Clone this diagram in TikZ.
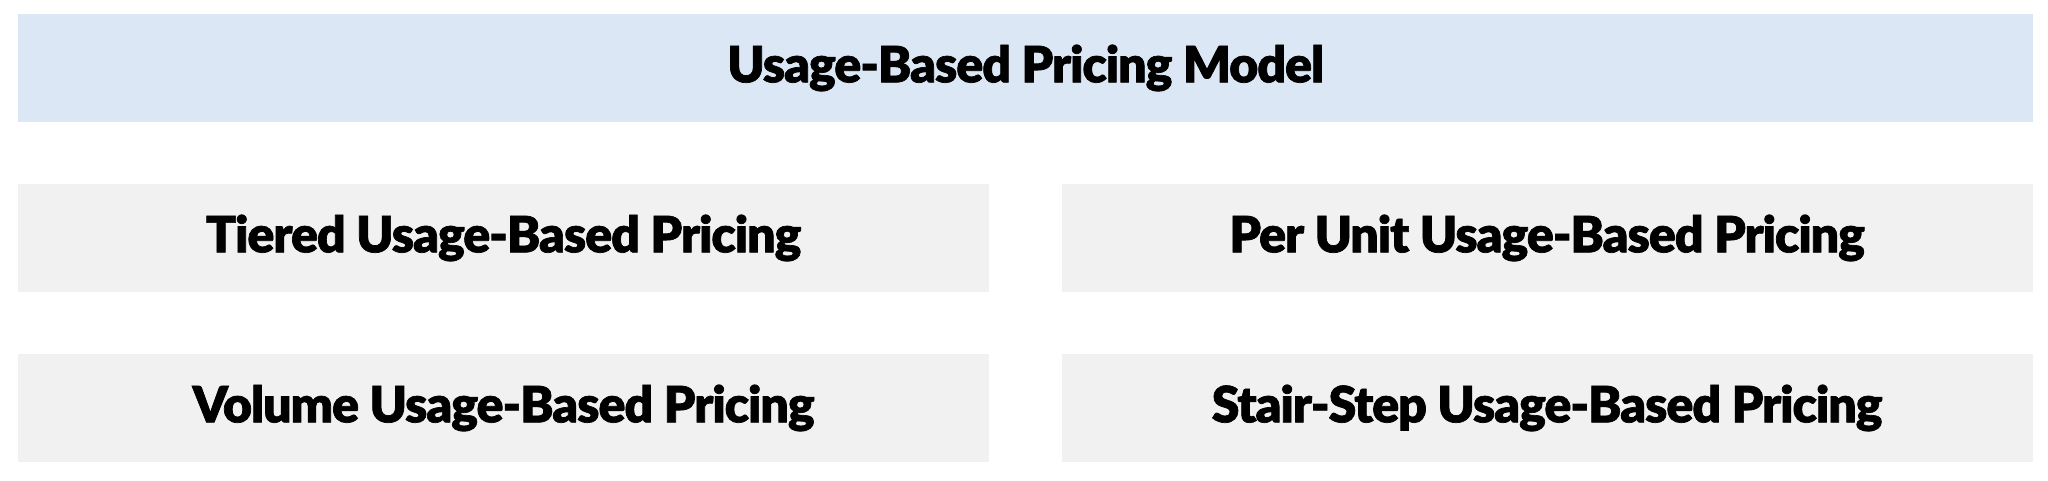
\documentclass[tikz,border=0pt]{standalone}
\usepackage{fontspec}
\usepackage{tikz}
\newfontfamily\heavyfont[FakeBold=1.4,LetterSpace=-2]{Lato Black}

\definecolor{titleblue}{RGB}{220,231,245}
\definecolor{boxgray}{RGB}{241,241,241}

\tikzset{
  pricebox/.style={fill=boxgray, draw=none, minimum width=485.5pt, minimum height=54pt, inner sep=0pt, font=\heavyfont\fontsize{25}{29}\selectfont},
  titlebox/.style={pricebox, fill=titleblue, minimum width=1007.5pt}
}

\begin{document}
\begin{tikzpicture}[x=0.5pt,y=0.5pt,yscale=-1,xscale=1]
%set diagram left start at 0, and has height of 481
\useasboundingbox (0,0) rectangle (2048,481);

% Title Node
\node [titlebox] (model) at (1025.5,68) {Usage-Based Pricing Model};

% Text Node
\node [pricebox] (tiered) at (503.5,238) {Tiered Usage-Based Pricing};
% Text Node
\node [pricebox] (perunit) at (1547,238) {Per Unit Usage-Based Pricing};
% Text Node
\node [pricebox] (volume) at (503.5,408) {Volume Usage-Based Pricing};
% Text Node
\node [pricebox] (stairstep) at (1547,408) {Stair-Step Usage-Based Pricing};

\end{tikzpicture}
\end{document}
